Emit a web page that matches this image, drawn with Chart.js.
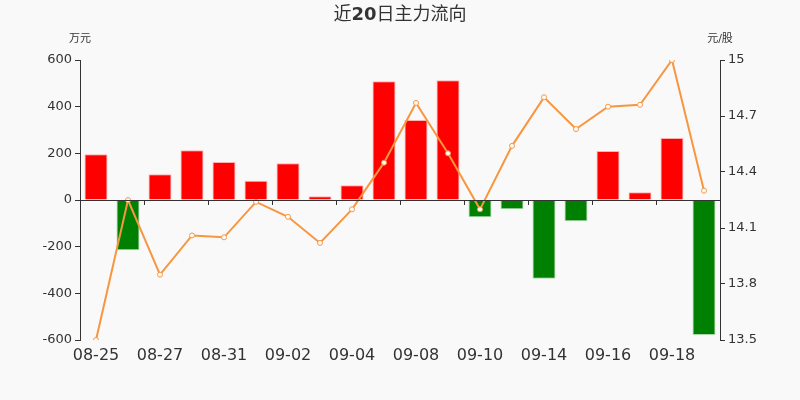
<!DOCTYPE html>
<html>
<head>
<meta charset="utf-8">
<script src="https://cdn.jsdelivr.net/npm/chart.js@4/dist/chart.umd.min.js"></script>
<style>
	body { margin: 0; background: #f9f9f9; }
	#box { width: 800px; height: 400px; }
</style>
</head>
<body>
<div id="box"><canvas id="flowChart"></canvas></div>
<script>
// dates, one per trading day
var dates = ["08-25", "08-26", "08-27", "08-28", "08-31", "09-01", "09-02", "09-03", "09-04", "09-07",
	"09-08", "09-09", "09-10", "09-11", "09-14", "09-15", "09-16", "09-17", "09-18", "09-21"];
// main force net flow, 万元
var flowData = [196, -215, 110, 213, 163, 83, 157, 16, 63, 509,
	343, 513, -74, -40, -337, -91, 210, 33, 266, -579];
// closing price, 元/股
var priceData = [13.5, 14.25, 13.85, 14.06, 14.05, 14.24, 14.16, 14.02, 14.2, 14.45,
	14.77, 14.5, 14.2, 14.54, 14.8, 14.63, 14.75, 14.76, 15.0, 14.3];
var flowTicks = [-600, -400, -200, 0, 200, 400, 600];
var priceTicks = [13.5, 13.8, 14.1, 14.4, 14.7, 15];

var textColor = "#333333";
var fontFamily = "'DejaVu Sans', 'Noto Sans CJK SC', sans-serif";

// title, units, zero line and its tick marks
var decor = {
	id: "decor",
	afterDatasetsDraw: function(chart) {
		var c = chart.ctx;
		var x = chart.scales.x;
		var y = chart.scales.y;
		var y1 = chart.scales.y1;
		var zero = y.getPixelForValue(0);
		c.save();
		c.strokeStyle = textColor;
		c.lineWidth = 1;
		c.beginPath();
		c.moveTo(x.left, zero + 0.5);
		c.lineTo(x.right, zero + 0.5);
		var w = (x.right - x.left) / dates.length;
		for (var i = 2; i < dates.length; i += 2) {
			var px = Math.round(x.left + w * i) + 0.5;
			c.moveTo(px, zero);
			c.lineTo(px, zero + 5);
		}
		c.stroke();

		// title with bold digits
		c.fillStyle = textColor;
		c.textBaseline = "middle";
		var parts = [["近", "18px"], ["20", "bold 18px"], ["日主力流向", "18px"]];
		var total = 0;
		for (var k = 0; k < parts.length; k++) {
			c.font = parts[k][1] + " " + fontFamily;
			total += c.measureText(parts[k][0]).width;
		}
		var tx = 400 - total / 2;
		c.textAlign = "left";
		for (var k = 0; k < parts.length; k++) {
			c.font = parts[k][1] + " " + fontFamily;
			c.fillText(parts[k][0], tx, 15);
			tx += c.measureText(parts[k][0]).width;
		}

		c.font = "11px " + fontFamily;
		c.textAlign = "center";
		c.fillText("万元", y.right, 39);
		c.fillText("元/股", y1.left, 39);
		c.restore();
	}
};

var ctx = document.getElementById("flowChart").getContext("2d");
var chart = new Chart(ctx, {
	type: "bar",
	data: {
		labels: dates,
		datasets: [{
			type: "line",
			label: "价格",
			data: priceData,
			yAxisID: "y1",
			borderColor: "#f7963f",
			borderWidth: 2,
			pointRadius: 2.5,
			pointBackgroundColor: "#ffffff",
			pointBorderColor: "#f7963f",
			pointBorderWidth: 1,
			tension: 0,
			order: 0
		}, {
			label: "主力流向",
			data: flowData,
			yAxisID: "y",
			backgroundColor: flowData.map(function(v) { return v >= 0 ? "#ff0000" : "#008000"; }),
			borderColor: flowData.map(function(v) { return v >= 0 ? "#ffb0b0" : "#a8d8a8"; }),
			borderWidth: 1,
			borderSkipped: "start",
			barPercentage: 0.72,
			categoryPercentage: 1,
			order: 1
		}]
	},
	options: {
		responsive: true,
		maintainAspectRatio: false,
		animation: false,
		layout: { padding: { top: 60, left: 0, right: 0, bottom: 0 } },
		plugins: {
			legend: { display: false },
			tooltip: { enabled: false }
		},
		scales: {
			x: {
				offset: true,
				border: { display: false },
				grid: { display: false, drawTicks: false },
				ticks: {
					autoSkip: false,
					maxRotation: 0,
					padding: 6,
					color: textColor,
					font: { family: fontFamily, size: 16 },
					callback: function(value, index) {
						return index % 2 === 0 ? dates[index] : null;
					}
				},
				afterFit: function(scale) { scale.height = 60; }
			},
			y: {
				position: "left",
				min: -600,
				max: 600,
				afterBuildTicks: function(scale) {
					scale.ticks = flowTicks.map(function(v) { return { value: v }; });
				},
				border: { display: true, color: textColor },
				grid: { drawOnChartArea: false, drawTicks: true, tickLength: 5, tickColor: textColor },
				ticks: {
					padding: 3,
					color: textColor,
					font: { family: fontFamily, size: 13 }
				},
				afterFit: function(scale) { scale.width = 80; }
			},
			y1: {
				position: "right",
				min: 13.5,
				max: 15,
				afterBuildTicks: function(scale) {
					scale.ticks = priceTicks.map(function(v) { return { value: v }; });
				},
				border: { display: true, color: textColor },
				grid: { drawOnChartArea: false, drawTicks: true, tickLength: 5, tickColor: textColor },
				ticks: {
					padding: 3,
					color: textColor,
					font: { family: fontFamily, size: 13 },
					callback: function(v) { return String(Math.round(v * 10) / 10); }
				},
				afterFit: function(scale) { scale.width = 80; }
			}
		}
	},
	plugins: [decor]
});
</script>
</body>
</html>
